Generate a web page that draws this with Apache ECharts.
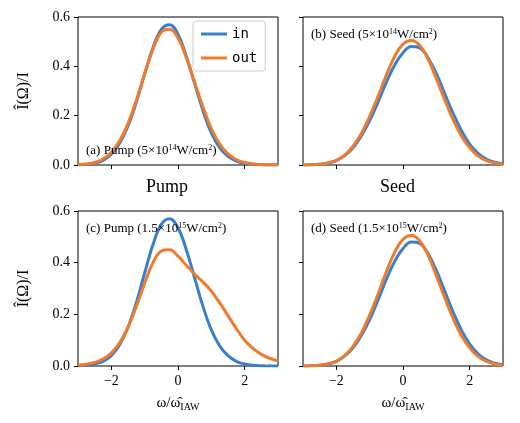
<!DOCTYPE html>
<html><head><meta charset="utf-8">
<script src="https://cdn.jsdelivr.net/npm/echarts@6/dist/echarts.min.js"></script>
<style>html,body{margin:0;padding:0;background:#fff}#c{width:520px;height:423px}</style>
</head><body><div id="c"></div>
<script>
const xs = [-3,-2.75,-2.5,-2.25,-2,-1.75,-1.5,-1.25,-1,-0.75,-0.5,-0.25,0,0.25,0.5,0.75,1,1.25,1.5,1.75,2,2.25,2.5,2.75,3];
const aIn  = [0.001,0.003,0.008,0.019,0.044,0.088,0.158,0.255,0.369,0.476,0.55,0.569,0.53,0.44,0.33,0.22,0.13,0.07,0.035,0.016,0.007,0.003,0.001,0,0];
const aOut = [0.002,0.004,0.01,0.024,0.052,0.098,0.168,0.262,0.37,0.47,0.538,0.55,0.515,0.435,0.335,0.235,0.148,0.085,0.045,0.022,0.01,0.004,0.002,0.001,0];
const bIn  = [0,0.001,0.003,0.008,0.018,0.038,0.07,0.118,0.18,0.255,0.335,0.405,0.455,0.48,0.475,0.435,0.37,0.29,0.21,0.14,0.085,0.047,0.024,0.011,0.005];
const bOut = [0,0.001,0.003,0.008,0.019,0.04,0.076,0.128,0.197,0.278,0.365,0.44,0.49,0.505,0.485,0.43,0.35,0.265,0.185,0.118,0.07,0.037,0.018,0.008,0.003];
const cIn  = [0.001,0.003,0.008,0.018,0.04,0.082,0.15,0.245,0.36,0.47,0.548,0.57,0.535,0.45,0.34,0.23,0.14,0.078,0.04,0.018,0.008,0.003,0.001,0,0];
const cOut = [0.003,0.007,0.014,0.027,0.05,0.09,0.15,0.23,0.32,0.4,0.445,0.45,0.425,0.39,0.355,0.325,0.29,0.245,0.195,0.145,0.1,0.068,0.045,0.03,0.02];
const dIn  = [0,0.001,0.003,0.008,0.018,0.038,0.07,0.118,0.18,0.255,0.335,0.405,0.455,0.48,0.475,0.435,0.37,0.29,0.21,0.14,0.085,0.047,0.024,0.011,0.005];
const dOut = [0,0.001,0.003,0.008,0.019,0.04,0.076,0.128,0.197,0.278,0.365,0.44,0.49,0.505,0.485,0.43,0.35,0.265,0.185,0.118,0.07,0.037,0.018,0.008,0.003];
const xTicks = [-2,0,2];
const panelTitles = ['(a) Pump (5×10{s|14}W/cm{s|2})','(b) Seed (5×10{s|14}W/cm{s|2})','(c) Pump (1.5×10{s|15}W/cm{s|2})','(d) Seed (1.5×10{s|15}W/cm{s|2})'];
const blue='#3a7fcb', orange='#f07b2c';
const F='Liberation Serif';
const grids=[{left:78,top:17,width:200,height:148},{left:303,top:17,width:200,height:148},{left:78,top:211,width:200,height:155},{left:303,top:211,width:200,height:155}];
const data=[[aIn,aOut],[bIn,bOut],[cIn,cOut],[dIn,dOut]];
const xAxis=[],yAxis=[],series=[],title=[];
grids.forEach((g,i)=>{
  g.show=true; g.borderColor='#000'; g.borderWidth=1;
  const bottom=i>=2, left=i%2===0;
  xAxis.push({type:'value',gridIndex:i,min:-3,max:3,position:'bottom',
    axisLine:{show:false,onZero:false},splitLine:{show:false},
    axisTick:{show:true,customValues:xTicks,length:4,lineStyle:{color:'#000'}},
    axisLabel:{show:bottom,customValues:xTicks,color:'#000',fontFamily:F,fontSize:14,formatter:v=>v<0?'−'+(-v):''+v},
    name:bottom?'ω/ω̂{s|IAW}':'',nameLocation:'middle',nameGap:28,
    nameTextStyle:{fontFamily:F,fontSize:15,color:'#000',rich:{s:{fontFamily:F,fontSize:10,verticalAlign:'bottom',padding:[8,0,0,0]}}}});
  yAxis.push({type:'value',gridIndex:i,min:0,max:0.6,interval:0.2,position:'left',
    axisLine:{show:false,onZero:false},splitLine:{show:false},
    axisTick:{show:true,length:4,lineStyle:{color:'#000'}},
    axisLabel:{show:left,color:'#000',fontFamily:F,fontSize:14,formatter:v=>v.toFixed(1)},
    name:left?'Î(Ω)/I':'',nameLocation:'middle',nameGap:46,nameRotate:90,
    nameTextStyle:{fontFamily:F,fontSize:16,color:'#000'}});
  ['in','out'].forEach((n,k)=>series.push({type:'line',name:n,xAxisIndex:i,yAxisIndex:i,
    data:xs.map((x,j)=>[x,data[i][k][j]]),smooth:0.4,showSymbol:false,
    lineStyle:{width:3,color:k?orange:blue},itemStyle:{color:k?orange:blue}}));
  const top = i===0 ? g.top+g.height-26 : g.top+6;
  title.push({text:panelTitles[i],left:g.left+3,top:top,
    textStyle:{fontFamily:F,fontSize:13,fontWeight:'normal',color:'#000',
      rich:{s:{fontFamily:F,fontSize:8,verticalAlign:'top',padding:[0,0,6,0]}}}});
});
const chart=echarts.init(document.getElementById('c'));
chart.setOption({animation:false,grid:grids,xAxis,yAxis,series,title,
  legend:{data:['in','out'],orient:'vertical',left:193,top:21,itemWidth:26,itemHeight:3,itemGap:10,
    backgroundColor:'#fff',borderColor:'#ccc',borderWidth:1,borderRadius:3,padding:[6,8,6,8],
    icon:'rect',textStyle:{fontFamily:'DejaVu Sans Mono',fontSize:14,color:'#000'}},
  graphic:[{type:'text',left:146,top:178,style:{text:'Pump',font:'18px "Liberation Serif"',fill:'#000'}},
           {type:'text',left:380,top:178,style:{text:'Seed',font:'18px "Liberation Serif"',fill:'#000'}}]
});
</script></body></html>
